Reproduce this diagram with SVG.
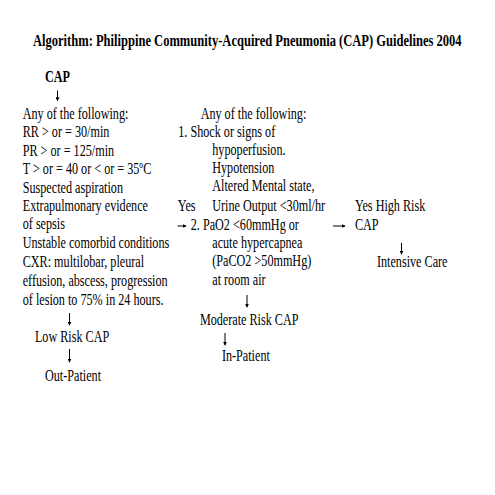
<svg xmlns="http://www.w3.org/2000/svg" width="495" height="495" viewBox="0 0 495 495">
<style>
text{font-family:"Liberation Serif","Times New Roman",serif;font-size:16px;fill:#000}
.b{font-weight:bold}
.c{stroke:#000;stroke-width:1;fill:none;marker-end:url(#ah)}
</style>
<defs>
<marker id="ah" viewBox="0 0 6 6" refX="5" refY="3" markerWidth="4" markerHeight="4" orient="auto" markerUnits="userSpaceOnUse">
<path d="M0,0 L6,3 L0,6 Z" fill="#000"/>
</marker>
</defs>
<rect width="495" height="495" fill="#fff"/>
<g transform="scale(0.76 1)">
<g id="title"><text class="b" x="43.4" y="46" textLength="564" lengthAdjust="spacingAndGlyphs">Algorithm: Philippine Community-Acquired Pneumonia (CAP) Guidelines 2004</text></g>
<g id="cap"><text class="b" x="59.2" y="82">CAP</text></g>
<g id="low-criteria">
<text x="29.9" y="119">Any of the following:</text>
<text x="29.9" y="137.5">RR &gt; or = 30/min</text>
<text x="29.9" y="156">PR &gt; or = 125/min</text>
<text x="29.9" y="174.5">T &gt; or = 40 or &lt; or = 35ºC</text>
<text x="29.9" y="193">Suspected aspiration</text>
<text x="29.9" y="211">Extrapulmonary evidence</text>
<text x="29.9" y="229.5">of sepsis</text>
<text x="29.9" y="248">Unstable comorbid conditions</text>
<text x="29.9" y="267">CXR: multilobar, pleural</text>
<text x="29.9" y="286">effusion, abscess, progression</text>
<text x="29.9" y="305">of lesion to 75% in 24 hours.</text>
</g>
<g id="low-risk"><text x="46" y="342">Low Risk CAP</text></g>
<g id="out-patient"><text x="59.2" y="381">Out-Patient</text></g>
<g id="moderate-criteria">
<text x="264" y="119">Any of the following:</text>
<text x="234.6" y="137">1. Shock or signs of</text>
<text x="279.3" y="155">hypoperfusion.</text>
<text x="279.3" y="173">Hypotension</text>
<text x="279.3" y="191">Altered Mental state,</text>
<text x="279.3" y="211">Urine Output &lt;30ml/hr</text>
<text x="251" y="230">2. PaO2 &lt;60mmHg or</text>
<text x="279.3" y="248">acute hypercapnea</text>
<text x="279.3" y="266.5">(PaCO2 &gt;50mmHg)</text>
<text x="279.3" y="285">at room air</text>
</g>
<g id="moderate-risk"><text x="263" y="325">Moderate Risk CAP</text></g>
<g id="in-patient"><text x="292" y="361">In-Patient</text></g>
<g id="high-risk">
<text x="467" y="211">Yes High Risk</text>
<text x="467" y="230">CAP</text>
</g>
<g id="intensive-care"><text x="496" y="267">Intensive Care</text></g>
<g id="yes-label"><text x="234" y="211">Yes</text></g>
</g>
<g id="connectors">
<path class="c" d="M57.5,90.5 V100.5"/>
<path class="c" d="M69.5,313 V325"/>
<path class="c" d="M69.5,349 V362"/>
<path class="c" d="M177.5,226 H186"/>
<path class="c" d="M247,295 V307"/>
<path class="c" d="M225,333 V345"/>
<path class="c" d="M333,226 H345"/>
<path class="c" d="M401.5,243 V254"/>
</g>
</svg>
